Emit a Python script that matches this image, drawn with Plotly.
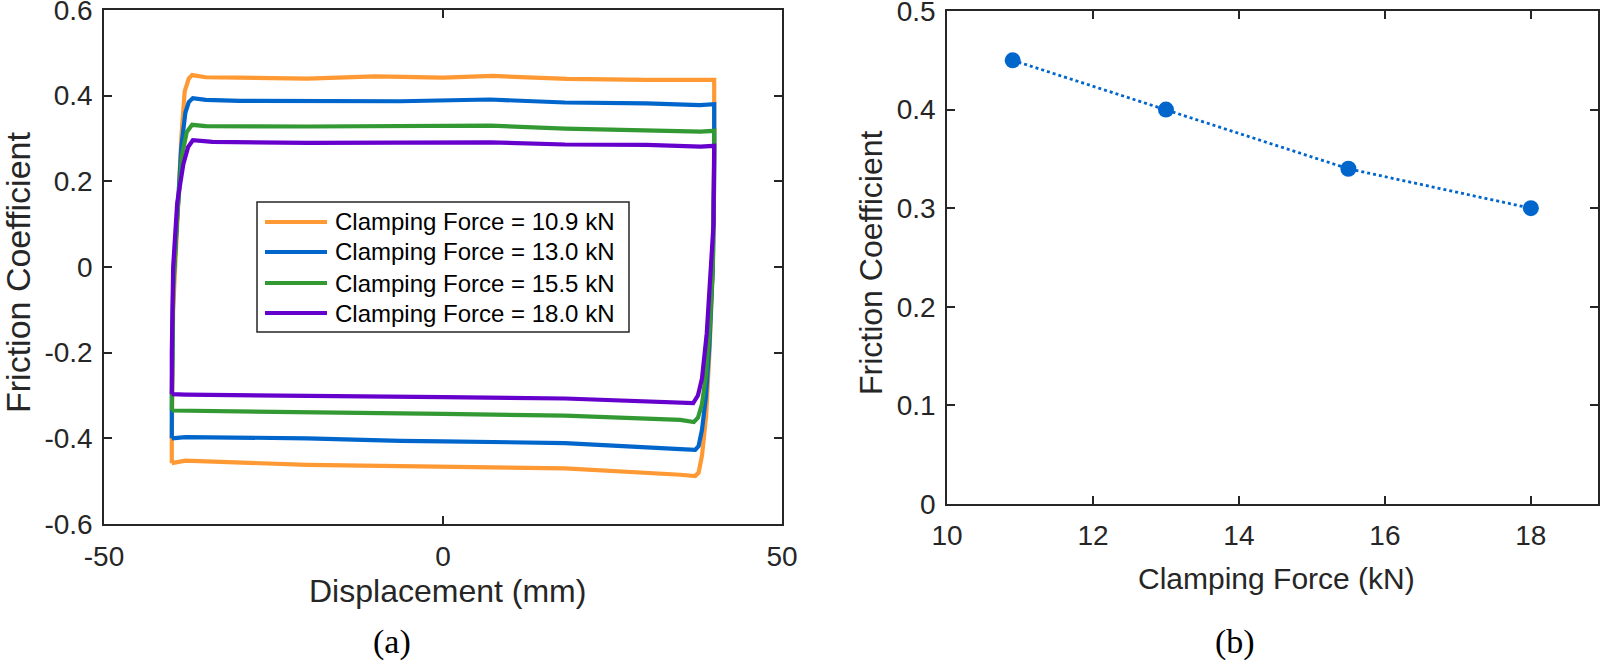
import plotly.graph_objects as go

# ---------------- Panel (a): hysteresis loops (vertices) ----------------
labels = ["Clamping Force = 10.9 kN", "Clamping Force = 13.0 kN",
          "Clamping Force = 15.5 kN", "Clamping Force = 18.0 kN"]
colors = ["#FF9933", "#0066CC", "#339933", "#6600CC"]

# orange, 10.9 kN
disp_109 = [-40.0, -40.0, -39.8, -39.2, -38.6, -38.1, -37.5, -37.0, -35.0, -30.0, -20.0, -10.0, 0.0, 7.4, 18.3, 30.0, 37.9, 40.0,
            40.0, 39.8, 39.3, 38.8, 38.2, 37.7, 37.2, 35.0, 18.0, 0.0, -6.3, -20.0, -38.0, -40.0]
fric_109 = [-0.458, -0.40, -0.10, 0.10, 0.30, 0.41, 0.44, 0.448, 0.443, 0.442, 0.440, 0.445, 0.442, 0.446, 0.439, 0.437, 0.436, 0.437,
            0.30, 0.0, -0.20, -0.35, -0.44, -0.48, -0.488, -0.485, -0.470, -0.468, -0.465, -0.462, -0.452, -0.458]

# blue, 13.0 kN
disp_130 = [-40.0, -40.0, -39.8, -39.2, -38.6, -38.0, -37.5, -36.9, -35.0, -30.0, -20.0, -6.3, 6.9, 18.0, 30.0, 37.9, 40.0,
            40.0, 39.8, 39.3, 38.8, 38.2, 37.7, 37.2, 35.0, 18.0, 0.0, -6.3, -20.0, -38.0, -40.0]
fric_130 = [-0.40, -0.34, -0.05, 0.12, 0.28, 0.36, 0.385, 0.394, 0.390, 0.388, 0.388, 0.387, 0.391, 0.384, 0.382, 0.378, 0.380,
            0.25, 0.0, -0.18, -0.30, -0.38, -0.418, -0.427, -0.425, -0.411, -0.407, -0.406, -0.400, -0.397, -0.40]

# green, 15.5 kN
disp_155 = [-40.0, -40.0, -39.8, -39.2, -38.5, -37.8, -37.0, -35.0, -20.0, -6.3, 7.0, 18.0, 30.0, 38.0, 40.0,
            40.0, 39.8, 39.3, 38.8, 38.2, 37.6, 37.0, 35.0, 18.0, 0.0, -6.3, -20.0, -38.0, -40.0]
fric_155 = [-0.335, -0.30, -0.05, 0.12, 0.26, 0.315, 0.332, 0.329, 0.328, 0.330, 0.330, 0.323, 0.320, 0.316, 0.318,
            0.20, 0.0, -0.15, -0.25, -0.32, -0.352, -0.362, -0.357, -0.347, -0.343, -0.342, -0.340, -0.336, -0.335]

# purple, 18.0 kN
disp_180 = [-40.0, -40.0, -39.8, -39.2, -38.3, -37.6, -36.9, -34.0, -20.0, -6.3, 7.0, 18.0, 30.0, 38.0, 40.0,
            39.9, 39.4, 38.9, 38.2, 37.6, 36.9, 35.0, 18.0, 0.0, -6.3, -20.0, -38.0, -40.0]
fric_180 = [-0.297, -0.20, 0.0, 0.15, 0.24, 0.28, 0.296, 0.292, 0.290, 0.290, 0.291, 0.286, 0.285, 0.281, 0.283,
            0.10, -0.05, -0.155, -0.26, -0.30, -0.318, -0.317, -0.307, -0.304, -0.303, -0.303, -0.298, -0.297]

loops_x = [disp_109, disp_130, disp_155, disp_180]
loops_y = [fric_109, fric_130, fric_155, fric_180]

# ---------------- Panel (b): friction vs clamping force ----------------
clamp_force = [10.9, 13.0, 15.5, 18.0]
friction_coef = [0.45, 0.40, 0.34, 0.30]

a_xticks = [-50, 0, 50]
a_xticklabels = ["-50", "0", "50"]
a_yticks = [-0.6, -0.4, -0.2, 0, 0.2, 0.4, 0.6]
a_yticklabels = ["-0.6", "-0.4", "-0.2", "0", "0.2", "0.4", "0.6"]
b_xticks = [10, 12, 14, 16, 18]
b_xticklabels = ["10", "12", "14", "16", "18"]
b_yticks = [0, 0.1, 0.2, 0.3, 0.4, 0.5]
b_yticklabels = ["0", "0.1", "0.2", "0.3", "0.4", "0.5"]

FONT = "Liberation Sans, Arial, Helvetica, sans-serif"
AX = "#262626"
W, H = 1600, 661

fig = go.Figure()
for xs, ys, lab, col in zip(loops_x, loops_y, labels, colors):
    fig.add_trace(go.Scatter(x=xs, y=ys, mode="lines", name=lab,
                             line=dict(color=col, width=4.2),
                             showlegend=False, xaxis="x", yaxis="y"))

fig.add_trace(go.Scatter(x=clamp_force, y=friction_coef, mode="lines+markers",
                         line=dict(color="#0066CC", width=2.8, dash="dot"),
                         marker=dict(color="#0066CC", size=16),
                         showlegend=False, xaxis="x2", yaxis="y2"))

common = dict(showline=True, linecolor=AX, linewidth=1.5, mirror="ticks",
              ticks="inside", ticklen=8, tickwidth=1.5, tickcolor=AX,
              showgrid=False, zeroline=False, automargin=False,
              ticklabeloverflow="allow",
              tickfont=dict(family=FONT, size=28, color=AX))

a_x0, a_x1, a_top, a_bot = 104, 782, 10, 524
b_x0, b_x1, b_top, b_bot = 947, 1598, 11, 504

fig.update_layout(
    width=W, height=H,
    margin=dict(l=0, r=0, t=0, b=0),
    paper_bgcolor="white", plot_bgcolor="white",
    xaxis=dict(domain=[a_x0 / W, a_x1 / W], range=[-50, 50], tickvals=a_xticks,
               ticktext=a_xticklabels, anchor="y", ticklabelstandoff=7, **common),
    yaxis=dict(domain=[1 - a_bot / H, 1 - a_top / H], range=[-0.6, 0.6],
               tickvals=a_yticks, ticktext=a_yticklabels, anchor="x",
               ticklabelstandoff=4, **common),
    xaxis2=dict(domain=[b_x0 / W, b_x1 / W], range=[10, 18.92], tickvals=b_xticks,
                ticktext=b_xticklabels, anchor="y2", ticklabelstandoff=6, **common),
    yaxis2=dict(domain=[1 - b_bot / H, 1 - b_top / H], range=[0, 0.5],
                tickvals=b_yticks, ticktext=b_yticklabels, anchor="x2",
                ticklabelstandoff=4, **common),
    showlegend=False,
)

# ---- legend box for panel (a), drawn in pixel positions ----
leg_l, leg_r, leg_t, leg_b = 257, 629, 202, 332
row_y = [222, 252, 283, 313]
fig.add_shape(type="rect", xref="paper", yref="paper",
              x0=leg_l / W, x1=leg_r / W, y0=1 - leg_b / H, y1=1 - leg_t / H,
              line=dict(color=AX, width=1.5), fillcolor="white", layer="above")
for lab, col, ry in zip(labels, colors, row_y):
    fig.add_shape(type="line", xref="paper", yref="paper",
                  x0=265 / W, x1=327 / W, y0=1 - ry / H, y1=1 - ry / H,
                  line=dict(color=col, width=3.8), layer="above")
    fig.add_annotation(text=lab, x=333 / W, y=1 - ry / H, xref="paper", yref="paper",
                       xanchor="left", yanchor="middle", showarrow=False,
                       font=dict(family=FONT, size=24, color="black"))

ann = [
    dict(text="Friction Coefficient", x=18 / W, y=1 - 273 / H, textangle=-90, size=34),
    dict(text="Displacement (mm)", x=447 / W, y=1 - 591 / H, textangle=0, size=32),
    dict(text="Friction Coefficient", x=871 / W, y=1 - 263 / H, textangle=-90, size=32),
    dict(text="Clamping Force (kN)", x=1276 / W, y=1 - 578 / H, textangle=0, size=30),
]
for a in ann:
    fig.add_annotation(text=a["text"], x=a["x"], y=a["y"], xref="paper", yref="paper",
                       xanchor="center", yanchor="middle", showarrow=False,
                       textangle=a["textangle"],
                       font=dict(family=FONT, size=a["size"], color=AX))
for txt, cx in [("(a)", 392), ("(b)", 1235)]:
    fig.add_annotation(text=txt, x=cx / W, y=1 - 642 / H, xref="paper", yref="paper",
                       xanchor="center", yanchor="middle", showarrow=False,
                       font=dict(family="Liberation Serif, Times New Roman, serif", size=34, color="black"))

fig.write_html("out.html")
